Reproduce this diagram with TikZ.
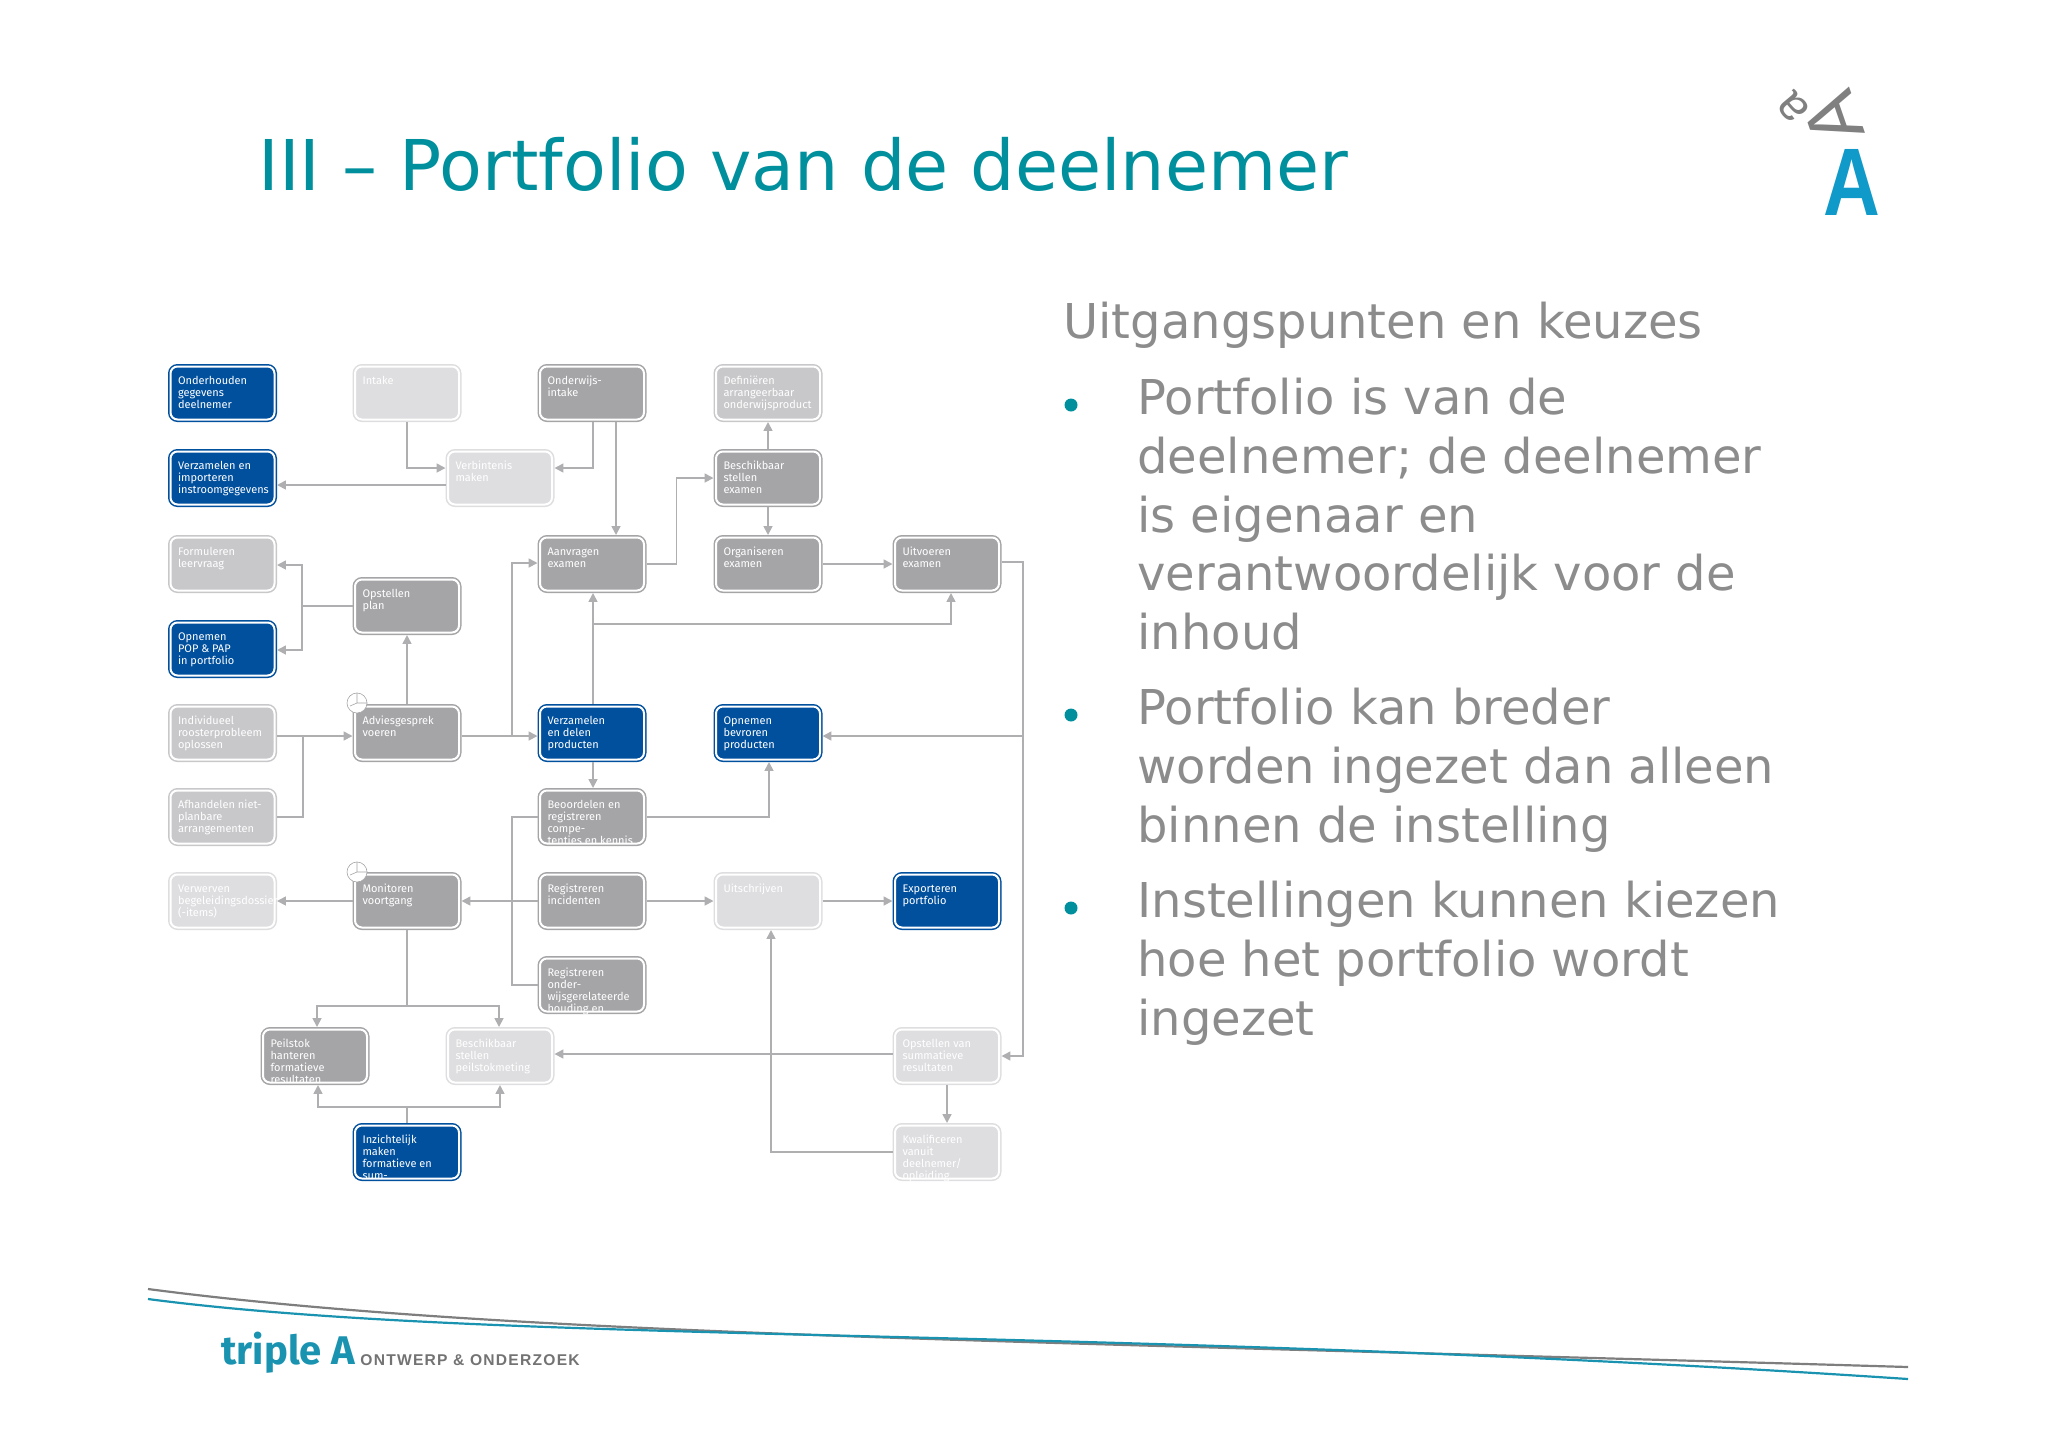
\documentclass[tikz,border=0pt]{standalone}
\usepackage{fontspec}
\setmainfont{DejaVu Sans}
\newfontfamily\boxfam{Fira Sans}
\newfontfamily\logofam{Liberation Sans}
\usetikzlibrary{arrows.meta,positioning}
\definecolor{tealtxt}{HTML}{008F9C}
\definecolor{graytxt}{HTML}{8C8C8C}
\definecolor{logoblue}{HTML}{0F9AC9}
\definecolor{logogray}{HTML}{808080}
\definecolor{swoosh}{HTML}{1A93B0}
\definecolor{boxblue}{HTML}{00509E}
\definecolor{boxdark}{HTML}{A5A4A7}
\definecolor{boxmid}{HTML}{C8C7CA}
\definecolor{boxpale}{HTML}{DEDDE0}
\definecolor{lijn}{HTML}{AFAEB1}
\newcommand{\boxtext}[1]{\parbox[c][26.5pt][t]{44.5pt}{\raggedright\rule{0pt}{8.75pt}#1}}
\tikzstyle{basebox}=[rectangle,rounded corners=3.5pt,line width=.75pt,double=white,double distance=1pt,minimum width=52pt,minimum height=26.5pt,inner sep=0pt,outer sep=1.25pt,text=white,font=\boxfam\fontsize{5.5}{6.1}\selectfont]
\tikzstyle{blue}=[basebox,draw=boxblue,fill=boxblue]
\tikzstyle{dark}=[basebox,draw=boxdark,fill=boxdark]
\tikzstyle{mid}=[basebox,draw=boxmid,fill=boxmid]
\tikzstyle{pale}=[basebox,draw=boxpale,fill=boxpale]
\tikzstyle{conn}=[draw=lijn,line width=.85pt,-{Triangle[length=4.4pt,width=4.4pt]}]
\tikzstyle{plain}=[draw=lijn,line width=.85pt]
\tikzstyle{clock}=[circle,draw=boxdark,fill=white,line width=.3pt,minimum size=10pt,inner sep=0pt]
\tikzstyle{bullet}=[circle,fill=tealtxt,minimum size=6.5pt,inner sep=0pt]
\tikzstyle{bodytext}=[anchor=north west,align=left,inner sep=0pt,text=graytxt,font=\fontsize{24}{29.3}\selectfont]

\begin{document}
\begin{tikzpicture}[x=.5pt,y=-.5pt]
\useasboundingbox (0,0) rectangle (2048,1447);

% First we draw the title and the text on the right
\node[anchor=base west,inner sep=0pt,text=tealtxt,font=\fontsize{35}{40}\selectfont] (title) at (258,190) {III -- Portfolio van de deelnemer};
\node[bodytext] (head) at (1063,302) {Uitgangspunten en keuzes};
\node[bodytext] (item1) at (1137,378) {Portfolio is van de\\deelnemer; de deelnemer\\is eigenaar en\\verantwoordelijk voor de\\inhoud};
\node[bodytext] (item2) at (1137,688) {Portfolio kan breder\\worden ingezet dan alleen\\binnen de instelling};
\node[bodytext] (item3) at (1137,881) {Instellingen kunnen kiezen\\hoe het portfolio wordt\\ingezet};
\foreach \pos / \name in {{(1071,405)/dotA},{(1071,715)/dotB},{(1071,908)/dotC}}
\node[bullet] (\name) at \pos {};

% Logo top right
\node[inner sep=0pt,text=logoblue,font=\logofam\bfseries\fontsize{48}{48}\selectfont,xscale=.82] (bigA) at (1852,182) {A};
\node[inner sep=0pt,text=logogray,font=\logofam\fontsize{37}{37}\selectfont,rotate=109] (turnA) at (1833,118) {A};
\node[inner sep=0pt,text=logogray,font=\logofam\fontsize{24}{24}\selectfont,rotate=130] (turna) at (1793,107) {a};

% The boxes, one loop for each colour
\foreach \pos / \name / \txt in {{(222.5,393)/onderh/{Onderhouden\\gegevens\\deelnemer}},
  {(222.5,478)/instroom/{Verzamelen en\\importeren\\instroomgegevens}},
  {(222.5,649)/popap/{Opnemen\\POP \& PAP\\in portfolio}},
  {(592,733)/delen/{Verzamelen\\en delen\\producten}},
  {(768,733)/bevroren/{Opnemen\\bevroren\\producten}},
  {(947,901)/export/{Exporteren\\portfolio}},
  {(407,1152)/inzicht/{Inzichtelijk maken\\formatieve en sum-\\matieve resultaten}}}
\node[blue] (\name) at \pos {\boxtext{\txt}};

\foreach \pos / \name / \txt in {{(592,393)/owintake/{Onderwijs-\\intake}},
  {(768,478)/beschikb/{Beschikbaar\\stellen\\examen}},
  {(592,564)/aanvragen/{Aanvragen\\examen}},
  {(768,564)/organis/{Organiseren\\examen}},
  {(947,564)/uitvoeren/{Uitvoeren\\examen}},
  {(407,606)/opstellen/{Opstellen\\plan}},
  {(407,733)/advies/{Adviesgesprek\\voeren}},
  {(592,817)/beoordelen/{Beoordelen en\\registreren compe-\\tenties en kennis}},
  {(592,901)/incident/{Registreren\\incidenten}},
  {(407,901)/monitor/{Monitoren\\voortgang}},
  {(592,985)/houding/{Registreren onder-\\wijsgerelateerde\\houding en gedrag}},
  {(315,1056)/peilstok/{Peilstok\\hanteren formatieve\\resultaten}}}
\node[dark] (\name) at \pos {\boxtext{\txt}};

\foreach \pos / \name / \txt in {{(768,393)/definieren/{Definiëren\\arrangeerbaar\\onderwijsproduct}},
  {(222.5,564)/formuleren/{Formuleren\\leervraag}},
  {(222.5,733)/individu/{Individueel\\roosterprobleem\\oplossen}},
  {(222.5,817)/afhandel/{Afhandelen niet-\\planbare\\arrangementen}}}
\node[mid] (\name) at \pos {\boxtext{\txt}};

\foreach \pos / \name / \txt in {{(407,393)/intake/{Intake}},
  {(500,478)/verbint/{Verbintenis maken}},
  {(222.5,901)/verwerven/{Verwerven\\begeleidingsdossier\\(-items)}},
  {(768,901)/uitschr/{Uitschrijven}},
  {(500,1056)/peilbesch/{Beschikbaar\\stellen\\peilstokmeting}},
  {(947,1056)/summatief/{Opstellen van\\summatieve\\resultaten}},
  {(947,1152)/kwalif/{Kwalificeren\\vanuit deelnemer/\\opleiding}}}
\node[pale] (\name) at \pos {\boxtext{\txt}};

% Clocks on two of the boxes
\foreach \pos / \name in {{(357,703)/clockA},{(357,872)/clockB}}
{
\node[clock] (\name) at \pos {};
\draw[boxdark,line width=.3pt] (\name.center) -- (\name.north) (\name.center) -- (\name.east) (\name.center) -- ++(-7,3);
}

% Junction points
\coordinate (jplan) at (302,606);
\coordinate (jindiv) at (303,736);
\coordinate (jadvies) at (512,736);
\coordinate (jdelen) at (593,624);
\coordinate (jright) at (1023,736);
\coordinate (jincid) at (512,901);
\coordinate (jmon) at (407,1006);
\coordinate (jinz) at (407,1107);

% Connect boxes with arrows
\path[conn] (intake.south) |- ([yshift=5pt]verbint.west);
\path[conn] ([xshift=.5pt]owintake.south) |- ([yshift=5pt]verbint.east);
\path[conn] ([xshift=12pt]owintake.south) -- ([xshift=12pt]aanvragen.north);
\path[conn] ([yshift=-3.5pt]verbint.west) -- ([yshift=-3.5pt,xshift=0pt]verbint.west -| instroom.east);
\path[plain] (opstellen.west) -- (jplan);
\path[conn] (jplan) |- ([yshift=-.5pt]formuleren.east);
\path[conn] (jplan) |- ([yshift=-.5pt]popap.east);
\path[conn] (advies.north) -- (opstellen.south);
\path[conn] ([yshift=-1.5pt]advies.east) -- ([yshift=-1.5pt]delen.west);
\path[conn] (jadvies) |- ([yshift=.5pt]aanvragen.west);
\path[conn] ([yshift=-1.5pt]individu.east) -- ([yshift=-1.5pt]advies.west);
\path[plain] (afhandel.east) -| (jindiv);
\path[conn] ([xshift=.5pt]delen.north) -- ([xshift=.5pt]aanvragen.south);
\path[conn] (jdelen) -| ([xshift=2pt]uitvoeren.south);
\path[conn] ([xshift=.5pt]delen.south) -- ([xshift=.5pt]beoordelen.north);
\path[conn] (aanvragen.east) -- ++(30,0) |- (beschikb.west);
\path[conn] (beschikb.north) -- (definieren.south);
\path[conn] (beschikb.south) -- (organis.north);
\path[conn] (organis.east) -- (uitvoeren.west);
\path[conn] ([yshift=1pt]uitvoeren.east) -| (jright) |- (summatief.east);
\path[conn] (jright) -- ([yshift=-1.5pt]bevroren.east);
\path[conn] (beoordelen.east) -| ([xshift=.5pt]bevroren.south);
\path[plain] (beoordelen.west) -| (jincid) |- (houding.west);
\path[conn] (incident.west) -- (monitor.east);
\path[conn] (monitor.west) -- (verwerven.east);
\path[conn] (incident.east) -- (uitschr.west);
\path[conn] (uitschr.east) -- (export.west);
\path[plain] (monitor.south) -- (jmon);
\path[conn] (jmon) -| ([xshift=1pt]peilstok.north);
\path[conn] (jmon) -| ([xshift=-.5pt]peilbesch.north);
\path[plain] (inzicht.north) -- (jinz);
\path[conn] (jinz) -| ([xshift=1.5pt]peilstok.south);
\path[conn] (jinz) -| (peilbesch.south);
\path[conn] ([yshift=1pt]summatief.west) -- ([yshift=1pt]peilbesch.east);
\path[conn] (summatief.south) -- (kwalif.north);
\path[conn] (kwalif.west) -| ([xshift=1.5pt]uitschr.south);

% Footer
\draw[graytxt!90!black,line width=1.1pt] (148,1289) .. controls (500,1335) and (1000,1340) .. (1908,1367);
\draw[swoosh,line width=1.1pt] (148,1299) .. controls (500,1345) and (1100,1325) .. (1908,1379);
\node[anchor=base west,inner sep=0pt,text=swoosh,font=\boxfam\bfseries\fontsize{20}{20}\selectfont] (triple) at (221,1364) {triple A};
\node[anchor=base west,inner sep=0pt,text=logogray!90!black,font=\logofam\bfseries\fontsize{7.8}{8}\selectfont] (ontwerp) at (360,1365) {\addfontfeature{LetterSpace=8}ONTWERP \& ONDERZOEK};
\end{tikzpicture}
\end{document}
